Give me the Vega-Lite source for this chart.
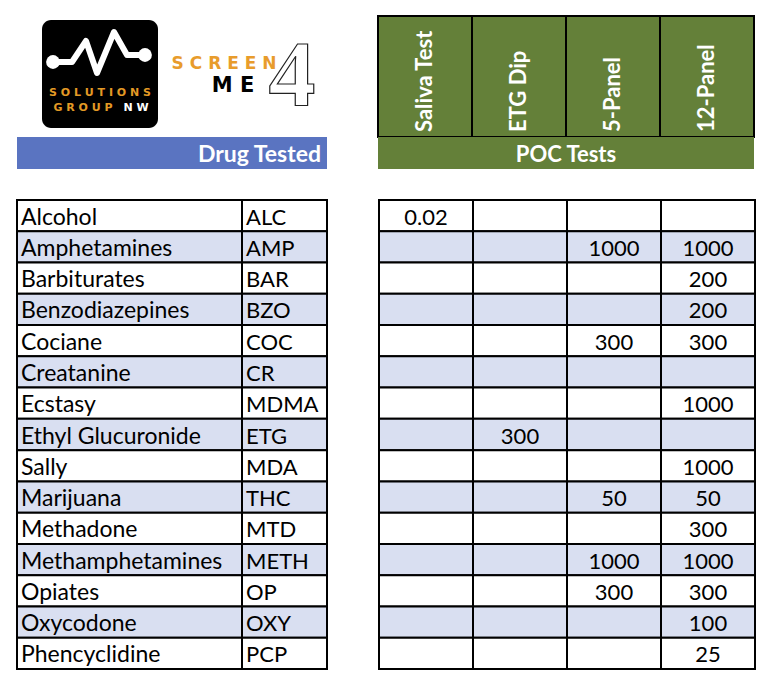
{
  "$schema": "https://vega.github.io/schema/vega-lite/v6.json",
  "padding": {"left": 16, "top": 15, "right": 0, "bottom": 0},
  "background": "white",
  "config": {
    "view": {"stroke": null},
    "text": {"font": "Lato", "fontSize": 22, "color": "black"},
    "concat": {"spacing": 0}
  },
  "datasets": {
    "drugs": [
      {"drug": "Alcohol", "code": "ALC", "band": "a", "Saliva Test": "0.02", "ETG Dip": null, "5-Panel": null, "12-Panel": null},
      {"drug": "Amphetamines", "code": "AMP", "band": "b", "Saliva Test": null, "ETG Dip": null, "5-Panel": "1000", "12-Panel": "1000"},
      {"drug": "Barbiturates", "code": "BAR", "band": "a", "Saliva Test": null, "ETG Dip": null, "5-Panel": null, "12-Panel": "200"},
      {"drug": "Benzodiazepines", "code": "BZO", "band": "b", "Saliva Test": null, "ETG Dip": null, "5-Panel": null, "12-Panel": "200"},
      {"drug": "Cociane", "code": "COC", "band": "a", "Saliva Test": null, "ETG Dip": null, "5-Panel": "300", "12-Panel": "300"},
      {"drug": "Creatanine", "code": "CR", "band": "b", "Saliva Test": null, "ETG Dip": null, "5-Panel": null, "12-Panel": null},
      {"drug": "Ecstasy", "code": "MDMA", "band": "a", "Saliva Test": null, "ETG Dip": null, "5-Panel": null, "12-Panel": "1000"},
      {"drug": "Ethyl Glucuronide", "code": "ETG", "band": "b", "Saliva Test": null, "ETG Dip": "300", "5-Panel": null, "12-Panel": null},
      {"drug": "Sally", "code": "MDA", "band": "a", "Saliva Test": null, "ETG Dip": null, "5-Panel": null, "12-Panel": "1000"},
      {"drug": "Marijuana", "code": "THC", "band": "b", "Saliva Test": null, "ETG Dip": null, "5-Panel": "50", "12-Panel": "50"},
      {"drug": "Methadone", "code": "MTD", "band": "a", "Saliva Test": null, "ETG Dip": null, "5-Panel": null, "12-Panel": "300"},
      {"drug": "Methamphetamines", "code": "METH", "band": "b", "Saliva Test": null, "ETG Dip": null, "5-Panel": "1000", "12-Panel": "1000"},
      {"drug": "Opiates", "code": "OP", "band": "a", "Saliva Test": null, "ETG Dip": null, "5-Panel": "300", "12-Panel": "300"},
      {"drug": "Oxycodone", "code": "OXY", "band": "b", "Saliva Test": null, "ETG Dip": null, "5-Panel": null, "12-Panel": "100"},
      {"drug": "Phencyclidine", "code": "PCP", "band": "a", "Saliva Test": null, "ETG Dip": null, "5-Panel": null, "12-Panel": "25"}
    ],
    "tests": [{"test": "Saliva Test"}, {"test": "ETG Dip"}, {"test": "5-Panel"}, {"test": "12-Panel"}],
    "logoBox": [{"x": 42, "x2": 158, "y": 20, "y2": 128}],
    "logoPulse": [
      {"i": 0, "x": 53, "y": 62}, {"i": 1, "x": 72, "y": 62}, {"i": 2, "x": 86, "y": 41},
      {"i": 3, "x": 97, "y": 73}, {"i": 4, "x": 114, "y": 32}, {"i": 5, "x": 127, "y": 55}, {"i": 6, "x": 145, "y": 55}
    ],
    "logoEnds": [{"x": 53, "y": 62}, {"x": 145, "y": 55}]
  },
  "vconcat": [
    {
      "spacing": 50,
      "hconcat": [
        {
          "bounds": "flush",
          "spacing": 0,
          "vconcat": [
            {
              "width": 310,
              "height": 121,
              "encoding": {
                "x": {"field": "x", "type": "quantitative", "axis": null, "scale": {"domain": [17, 327], "nice": false, "zero": false}},
                "y": {"field": "y", "type": "quantitative", "axis": null, "scale": {"domain": [137, 16], "nice": false, "zero": false}}
              },
              "layer": [
                {
                  "data": {"name": "logoBox"},
                  "mark": {"type": "rect", "fill": "black", "cornerRadius": 9},
                  "encoding": {"x2": {"field": "x2"}, "y2": {"field": "y2"}}
                },
                {
                  "data": {"name": "logoPulse"},
                  "mark": {"type": "line", "color": "white", "strokeWidth": 6, "strokeJoin": "round"},
                  "encoding": {"order": {"field": "i"}}
                },
                {
                  "data": {"name": "logoEnds"},
                  "mark": {"type": "circle", "color": "white", "opacity": 1, "size": 190}
                },
                {
                  "data": {"values": [
                    {"t": "S O L U T I O N S", "x": 100, "y": 93},
                    {"t": "G R O U P", "x": 83, "y": 108}
                  ]},
                  "mark": {"type": "text", "font": "DejaVu Sans", "fontWeight": "bold", "fontSize": 11, "color": "#e39a25"},
                  "encoding": {"text": {"field": "t"}}
                },
                {
                  "data": {"values": [{"t": "N W", "x": 136, "y": 108}]},
                  "mark": {"type": "text", "font": "DejaVu Sans", "fontWeight": "bold", "fontSize": 11, "color": "white"},
                  "encoding": {"text": {"field": "t"}}
                },
                {
                  "data": {"values": [{"t": "S C R E E N", "x": 224, "y": 64}]},
                  "mark": {"type": "text", "font": "DejaVu Sans", "fontWeight": "bold", "fontSize": 17, "color": "#e89c2c"},
                  "encoding": {"text": {"field": "t"}}
                },
                {
                  "data": {"values": [{"t": "M E", "x": 233, "y": 86}]},
                  "mark": {"type": "text", "font": "DejaVu Sans", "fontWeight": "bold", "fontSize": 21, "color": "black"},
                  "encoding": {"text": {"field": "t"}}
                },
                {
                  "data": {"values": [{"t": "4", "x": 292, "y": 77}]},
                  "mark": {"type": "text", "font": "Liberation Serif", "fontWeight": "bold", "fontSize": 94, "fill": "white", "stroke": "#222222", "strokeWidth": 1.2},
                  "encoding": {"text": {"field": "t"}}
                }
              ]
            },
            {
              "width": 310,
              "height": 32,
              "data": {"values": [{"label": "Drug Tested"}]},
              "layer": [
                {"mark": {"type": "rect", "fill": "#5a74c1"}},
                {
                  "mark": {"type": "text", "align": "right", "dx": -6, "dy": 2, "fontSize": 23, "fontWeight": "bold", "color": "white"},
                  "encoding": {
                    "x": {"datum": 1, "type": "quantitative", "axis": null, "scale": {"domain": [0, 1]}},
                    "text": {"field": "label"}
                  }
                }
              ]
            }
          ]
        },
        {
          "bounds": "flush",
          "spacing": 0,
          "vconcat": [
            {
              "width": 376,
              "height": 121,
              "data": {"name": "tests"},
              "encoding": {
                "x": {"field": "test", "type": "nominal", "sort": null, "axis": null, "scale": {"paddingInner": 0, "paddingOuter": 0}}
              },
              "layer": [
                {"mark": {"type": "rect", "fill": "#648039", "stroke": "black", "strokeWidth": 2}},
                {
                  "mark": {"type": "text", "angle": 270, "align": "left", "baseline": "middle", "fontWeight": "bold", "color": "white"},
                  "encoding": {
                    "y": {"datum": 5, "type": "quantitative", "axis": null, "scale": {"domain": [0, 121]}},
                    "text": {"field": "test"}
                  }
                }
              ]
            },
            {
              "width": 376,
              "height": 32,
              "data": {"values": [{"label": "POC Tests"}]},
              "layer": [
                {"mark": {"type": "rect", "fill": "#648039"}},
                {"mark": {"type": "text", "dy": 2, "fontWeight": "bold", "color": "white"}, "encoding": {"text": {"field": "label"}}}
              ]
            }
          ]
        }
      ]
    },
    {
      "spacing": 50,
      "hconcat": [
        {
          "bounds": "flush",
          "spacing": 0,
          "hconcat": [
            {
              "width": 225,
              "height": 469,
              "data": {"name": "drugs"},
              "encoding": {
                "y": {"field": "drug", "type": "nominal", "sort": null, "axis": null, "scale": {"paddingInner": 0, "paddingOuter": 0}}
              },
              "layer": [
                {
                  "mark": {"type": "rect", "stroke": "black", "strokeWidth": 2},
                  "encoding": {"fill": {"field": "band", "type": "nominal", "legend": null, "scale": {"domain": ["a", "b"], "range": ["white", "#d9dff1"]}}}
                },
                {
                  "mark": {"type": "text", "align": "left", "dx": 4, "dy": 2, "fontSize": 23},
                  "encoding": {
                    "x": {"datum": 0, "type": "quantitative", "axis": null, "scale": {"domain": [0, 1]}},
                    "text": {"field": "drug"}
                  }
                }
              ]
            },
            {
              "width": 85,
              "height": 469,
              "data": {"name": "drugs"},
              "encoding": {
                "y": {"field": "drug", "type": "nominal", "sort": null, "axis": null, "scale": {"paddingInner": 0, "paddingOuter": 0}}
              },
              "layer": [
                {
                  "mark": {"type": "rect", "stroke": "black", "strokeWidth": 2},
                  "encoding": {"fill": {"field": "band", "type": "nominal", "legend": null, "scale": {"domain": ["a", "b"], "range": ["white", "#d9dff1"]}}}
                },
                {
                  "mark": {"type": "text", "align": "left", "dx": 4, "dy": 2},
                  "encoding": {
                    "x": {"datum": 0, "type": "quantitative", "axis": null, "scale": {"domain": [0, 1]}},
                    "text": {"field": "code"}
                  }
                }
              ]
            }
          ]
        },
        {
          "width": 376,
          "height": 469,
          "data": {"name": "drugs"},
          "transform": [{"fold": ["Saliva Test", "ETG Dip", "5-Panel", "12-Panel"], "as": ["test", "cutoff"]}],
          "encoding": {
            "x": {"field": "test", "type": "nominal", "sort": ["Saliva Test", "ETG Dip", "5-Panel", "12-Panel"], "axis": null, "scale": {"paddingInner": 0, "paddingOuter": 0}},
            "y": {"field": "drug", "type": "nominal", "sort": null, "axis": null, "scale": {"paddingInner": 0, "paddingOuter": 0}}
          },
          "layer": [
            {
              "mark": {"type": "rect", "stroke": "black", "strokeWidth": 2},
              "encoding": {"fill": {"field": "band", "type": "nominal", "legend": null, "scale": {"domain": ["a", "b"], "range": ["white", "#d9dff1"]}}}
            },
            {
              "transform": [{"filter": "datum.cutoff != null"}],
              "mark": {"type": "text", "dy": 2},
              "encoding": {"text": {"field": "cutoff"}}
            }
          ]
        }
      ]
    }
  ],
  "spacing": 30
}
